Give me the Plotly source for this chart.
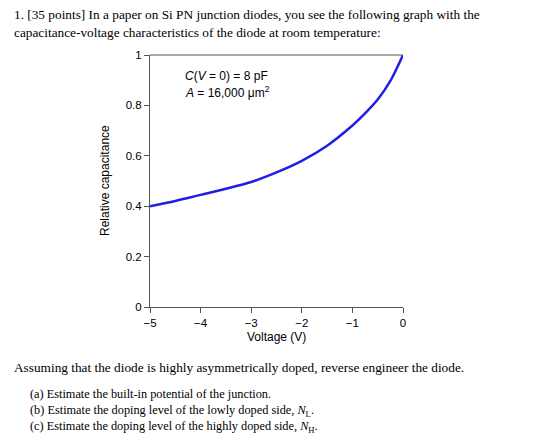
import plotly.graph_objects as go

voltage = [-5, -4.5, -4, -3.5, -3, -2.5, -2, -1.5, -1, -0.75, -0.5, -0.25, 0]
rel_cap = [0.40, 0.421, 0.445, 0.469, 0.496, 0.534, 0.58, 0.64, 0.72, 0.768, 0.823, 0.897, 1.0]
xticks = [-5, -4, -3, -2, -1, 0]
xlabels = ["\u22125", "\u22124", "\u22123", "\u22122", "\u22121", "0"]
yticks = [0, 0.2, 0.4, 0.6, 0.8, 1]
ylabels = ["0", "0.2", "0.4", "0.6", "0.8", "1"]

OFF = 8  # page body margin
L, R, T, B = 150 - OFF, 403 - OFF, 55 - OFF, 307 - OFF
W, H = 542 - OFF, 439 - OFF
serif = "Liberation Serif"
sans = "Liberation Sans"

fig = go.Figure()
fig.add_trace(go.Scatter(x=voltage, y=rel_cap, mode="lines", line=dict(color="#1f1fe6", width=2.5, shape="spline", smoothing=0.8)))


def px(x, y):
    return (x - OFF - L) / (R - L), (B - (y - OFF)) / (B - T)


notes = [
    (12, 15, "1. [35 points] In a paper on Si PN junction diodes, you see the following graph with the", serif, 13.3, "left"),
    (12, 32, "capacitance-voltage characteristics of the diode at room temperature:", serif, 13.3, "left"),
    (12, 367, "Assuming that the diode is highly asymmetrically doped, reverse engineer the diode.", serif, 13.3, "left"),
    (28, 394, "(a) Estimate the built-in potential of the junction.", serif, 12.3, "left"),
    (28, 411, "(b) Estimate the doping level of the lowly doped side, <i>N</i><sub>L</sub>.", serif, 12.3, "left"),
    (28, 427, "(c) Estimate the doping level of the highly doped side, <i>N</i><sub>H</sub>.", serif, 12.3, "left"),
    (183, 76, "<i>C</i>(<i>V</i> = 0) = 8 pF", sans, 12, "left"),
    (183, 92, "<i>A</i> = 16,000 \u03bcm<sup>2</sup>", sans, 12, "left"),
    (276, 337, "Voltage (V)", sans, 12, "center"),
]
for x, y, t, f, s, a in notes:
    xp, yp = px(x, y)
    fig.add_annotation(x=xp, y=yp, xref="paper", yref="paper", text=t, showarrow=False,
                       xanchor=a, yanchor="middle", font=dict(family=f, size=s, color="black"))

fig.add_annotation(x=px(96, 0)[0], y=px(0, 181)[1], xref="paper", yref="paper", text="Relative capacitance",
                   textangle=-90, showarrow=False, font=dict(family=sans, size=12, color="black"))

fig.add_shape(type="line", xref="paper", yref="paper", x0=0, x1=1, y0=1, y1=1, line=dict(color="#555", width=1))

fig.update_xaxes(range=[-5, 0], tickvals=xticks, ticktext=xlabels, showgrid=False, zeroline=False,
                 showline=True, linecolor="#555", ticks="outside", ticklen=5, tickcolor="#555",
                 tickfont=dict(family=sans, size=11.5, color="black"))
fig.update_yaxes(range=[0, 1], tickvals=yticks, ticktext=ylabels, showgrid=False, zeroline=False,
                 showline=True, linecolor="#555", ticks="outside", ticklen=5, tickcolor="#555",
                 tickfont=dict(family=sans, size=11.5, color="black"))
fig.update_layout(width=W, height=H, margin=dict(l=L, r=W - R, t=T, b=H - B), showlegend=False,
                  plot_bgcolor="white", paper_bgcolor="white")

fig.write_html("out.html")
